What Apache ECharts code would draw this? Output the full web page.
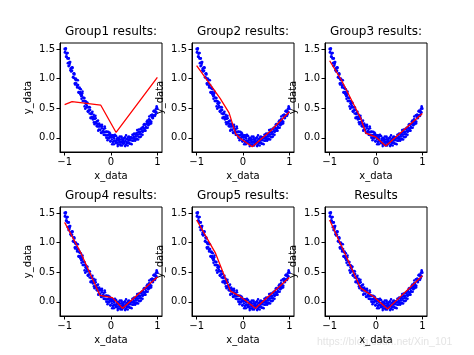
<!DOCTYPE html>
<html>
<head>
<meta charset="utf-8">
<script src="https://cdn.jsdelivr.net/npm/echarts@6/dist/echarts.min.js"></script>
<style>
html,body{margin:0;padding:0;background:#fff;}
#c{width:474px;height:355px;}
</style>
</head>
<body>
<div id="c"></div>
<script>
// ---- data ----
const xData = [
-1.00,-0.99,-0.98,-0.97,-0.96,-0.95,-0.94,-0.93,-0.92,-0.91,
-0.90,-0.89,-0.88,-0.87,-0.86,-0.85,-0.84,-0.83,-0.82,-0.81,
-0.80,-0.79,-0.78,-0.77,-0.76,-0.75,-0.74,-0.73,-0.72,-0.71,
-0.70,-0.69,-0.68,-0.67,-0.66,-0.65,-0.64,-0.63,-0.62,-0.61,
-0.60,-0.59,-0.58,-0.57,-0.56,-0.55,-0.54,-0.53,-0.52,-0.51,
-0.50,-0.49,-0.48,-0.47,-0.46,-0.45,-0.44,-0.43,-0.42,-0.41,
-0.40,-0.39,-0.38,-0.37,-0.36,-0.35,-0.34,-0.33,-0.32,-0.31,
-0.30,-0.29,-0.28,-0.27,-0.26,-0.25,-0.24,-0.23,-0.22,-0.21,
-0.20,-0.19,-0.18,-0.17,-0.16,-0.15,-0.14,-0.13,-0.12,-0.11,
-0.10,-0.09,-0.08,-0.07,-0.06,-0.05,-0.04,-0.03,-0.02,-0.01,
0.00,0.01,0.02,0.03,0.04,0.05,0.06,0.07,0.08,0.09,
0.10,0.11,0.12,0.13,0.14,0.15,0.16,0.17,0.18,0.19,
0.20,0.21,0.22,0.23,0.24,0.25,0.26,0.27,0.28,0.29,
0.30,0.31,0.32,0.33,0.34,0.35,0.36,0.37,0.38,0.39,
0.40,0.41,0.42,0.43,0.44,0.45,0.46,0.47,0.48,0.49,
0.50,0.51,0.52,0.53,0.54,0.55,0.56,0.57,0.58,0.59,
0.60,0.61,0.62,0.63,0.64,0.65,0.66,0.67,0.68,0.69,
0.70,0.71,0.72,0.73,0.74,0.75,0.76,0.77,0.78,0.79,
0.80,0.81,0.82,0.83,0.84,0.85,0.86,0.87,0.88,0.89,
0.90,0.91,0.92,0.93,0.94,0.95,0.96,0.97,0.98,0.99,1.00
];
const yData = [
1.50,1.45,1.49,1.37,1.42,1.43,1.34,1.26,1.34,1.34,
1.22,1.25,1.28,1.17,1.12,1.18,1.13,1.18,1.02,1.08,
1.01,1.07,0.92,0.99,1.00,0.92,0.98,0.85,0.88,0.89,
0.77,0.84,0.85,0.77,0.73,0.82,0.70,0.72,0.75,0.62,
0.68,0.62,0.67,0.53,0.62,0.58,0.61,0.51,0.54,0.59,
0.45,0.51,0.46,0.52,0.41,0.47,0.34,0.40,0.42,0.35,
0.44,0.31,0.34,0.26,0.36,0.32,0.26,0.33,0.25,0.20,
0.28,0.23,0.29,0.19,0.14,0.22,0.19,0.13,0.21,0.08,
0.16,0.19,0.09,0.11,0.15,0.05,0.10,0.16,0.05,0.10,
0.00,0.10,0.04,0.00,0.10,0.05,-0.01,0.02,0.07,-0.06,
0.04,0.01,-0.03,0.04,-0.07,0.01,-0.11,-0.01,0.03,-0.05,
-0.08,0.03,-0.05,-0.08,0.00,-0.11,-0.04,-0.02,-0.08,0.02,
-0.11,-0.03,-0.07,0.00,-0.13,-0.04,-0.06,-0.10,-0.01,-0.09,
0.01,-0.05,-0.12,-0.02,-0.07,-0.02,-0.13,0.01,-0.05,-0.09,
-0.02,0.01,-0.04,-0.10,0.01,-0.01,-0.05,0.05,-0.05,0.02,
0.07,-0.01,-0.05,0.05,0.02,0.08,-0.02,0.05,0.09,0.02,
0.14,0.06,0.01,0.10,0.15,0.06,0.14,0.11,0.05,0.18,
0.12,0.16,0.23,0.12,0.22,0.18,0.17,0.27,0.24,0.17,
0.27,0.25,0.31,0.23,0.30,0.28,0.38,0.27,0.35,0.39,
0.33,0.37,0.45,0.38,0.46,0.37,0.45,0.49,0.43,0.51,0.49
];
// more points of the same cloud (between the ones above)
const xData2 = [
-0.995,-0.975,-0.955,-0.935,-0.915,-0.895,-0.875,-0.855,-0.835,-0.815,
-0.795,-0.775,-0.755,-0.735,-0.715,-0.695,-0.675,-0.655,-0.635,-0.615,
-0.595,-0.575,-0.555,-0.535,-0.515,-0.495,-0.475,-0.455,-0.435,-0.415,
-0.395,-0.375,-0.355,-0.335,-0.315,-0.295,-0.275,-0.255,-0.235,-0.215,
-0.195,-0.175,-0.155,-0.135,-0.115,-0.095,-0.075,-0.055,-0.035,-0.015,
0.005,0.025,0.045,0.065,0.085,0.105,0.125,0.145,0.165,0.185,
0.205,0.225,0.245,0.265,0.285,0.305,0.325,0.345,0.365,0.385,
0.405,0.425,0.445,0.465,0.485,0.505,0.525,0.545,0.565,0.585,
0.605,0.625,0.645,0.665,0.685,0.705,0.725,0.745,0.765,0.785,
0.805,0.825,0.845,0.865,0.885,0.905,0.925,0.945,0.965,0.985
];
const yData2 = [
1.44,1.51,1.37,1.43,1.21,1.28,1.14,1.17,1.19,1.03,
1.09,0.90,0.97,0.88,0.97,0.76,0.83,0.75,0.66,0.78,
0.62,0.67,0.49,0.57,0.59,0.44,0.46,0.51,0.33,0.41,
0.33,0.39,0.23,0.37,0.27,0.19,0.12,0.24,0.20,0.09,
0.22,0.11,0.05,0.19,0.04,0.10,-0.04,0.05,0.09,-0.06,
0.01,-0.11,0.04,-0.05,0.05,-0.09,-0.02,-0.14,-0.01,-0.06,
-0.13,0.02,-0.09,-0.02,-0.07,-0.14,0.04,-0.09,-0.03,0.02,
-0.10,0.00,-0.11,0.05,-0.01,-0.02,0.06,-0.03,0.13,-0.03,
0.10,0.09,0.02,0.17,0.10,0.22,0.15,0.12,0.23,0.29,
0.21,0.36,0.27,0.24,0.39,0.34,0.45,0.44,0.40,0.53
];

const titles = ["Group1 results:", "Group2 results:", "Group3 results:", "Group4 results:", "Group5 results:", "Results"];

const g1X = [-1, -0.84, -0.22, 0.11, 1];
const g1Y = [0.56, 0.61, 0.55, 0.09, 1.02];
const g2X = [-1, -0.67, -0.49, -0.30, -0.16, -0.08, 0.20, 0.60, 1];
const g2Y = [1.22, 0.86, 0.66, 0.42, 0.07, 0.00, -0.15, 0.12, 0.44];
const g3X = [-1, -0.75, -0.33, -0.22, 0.00, 0.21, 1];
const g3Y = [1.30, 0.98, 0.33, 0.08, 0.01, -0.14, 0.41];
const g4X = [-1, -0.66, -0.24, 0.03, 0.25, 1];
const g4Y = [1.34, 0.84, 0.11, 0.07, -0.11, 0.42];
const g5X = [-1, -0.60, -0.27, -0.08, 0.27, 1];
const g5Y = [1.38, 0.83, 0.18, 0.10, -0.11, 0.41];
const g6X = [-1, -0.33, -0.04, 0.25, 1];
const g6Y = [1.38, 0.23, 0.08, -0.12, 0.44];

const xTicks = [-1, 0, 1];
const yTicks = [0, 0.5, 1.0, 1.5];
const xLabel = "x_data";
const yLabel = "y_data";
const watermark = "https://blog.csdn.net/Xin_101";

// ---- layout ----
const lineXs = [g1X, g2X, g3X, g4X, g5X, g6X];
const lineYs = [g1Y, g2Y, g3Y, g4Y, g5Y, g6Y];
const colLeft = [60, 192, 325];
const rowTop = [43, 207];
const W = 102, H = 109;
const FONT = "DejaVu Sans";

const scatterPts = xData.map((x, i) => [x, yData[i]])
  .concat(xData2.map((x, i) => [x, yData2[i]]));

const grid = [], xAxis = [], yAxis = [], series = [], graphic = [];
for (let k = 0; k < 6; k++) {
  const r = Math.floor(k / 3), c = k % 3;
  grid.push({
    left: colLeft[c], top: rowTop[r], width: W, height: H,
    show: true, borderColor: '#000', borderWidth: 1, backgroundColor: 'transparent',
    containLabel: false
  });
  xAxis.push({
    type: 'value', gridIndex: k, min: -1.1, max: 1.1,
    name: xLabel, nameLocation: 'middle', nameGap: 19,
    nameTextStyle: { color: '#000', fontSize: 10, fontFamily: FONT },
    axisLine: { show: true, onZero: false, lineStyle: { color: '#000', width: 1 } },
    axisTick: { show: true, length: 3.5, customValues: xTicks, lineStyle: { color: '#000', width: 1 } },
    axisLabel: {
      show: true, margin: 5, customValues: xTicks, color: '#000', fontSize: 10, fontFamily: FONT,
      formatter: v => (v < 0 ? '\u2212' + Math.abs(v) : String(v))
    },
    splitLine: { show: false }
  });
  yAxis.push({
    type: 'value', gridIndex: k, min: -0.24, max: 1.6,
    name: yLabel, nameLocation: 'middle', nameGap: 27, nameRotate: 90,
    nameTextStyle: { color: '#000', fontSize: 10, fontFamily: FONT },
    axisLine: { show: true, onZero: false, lineStyle: { color: '#000', width: 1 } },
    axisTick: { show: true, length: 3.5, customValues: yTicks, lineStyle: { color: '#000', width: 1 } },
    axisLabel: {
      show: true, margin: 5, customValues: yTicks, color: '#000', fontSize: 10, fontFamily: FONT,
      formatter: v => v.toFixed(1)
    },
    splitLine: { show: false }
  });
  series.push({
    type: 'scatter', xAxisIndex: k, yAxisIndex: k, data: scatterPts,
    symbol: 'circle', symbolSize: 2.6, itemStyle: { color: '#0000ff', opacity: 1 },
    z: 2, silent: true
  });
  series.push({
    type: 'line', xAxisIndex: k, yAxisIndex: k,
    data: lineXs[k].map((x, i) => [x, lineYs[k][i]]),
    showSymbol: false, symbol: 'none',
    lineStyle: { color: '#ff0000', width: 1.3 }, z: 3, silent: true
  });
  graphic.push({
    type: 'text', x: colLeft[c] + W / 2, y: rowTop[r] - 11, silent: true,
    style: { text: titles[k], fill: '#000', font: '12px "DejaVu Sans"', align: 'center', verticalAlign: 'middle' }
  });
}
graphic.push({
  type: 'text', x: 317, y: 342, z: -10, silent: true,
  style: { text: watermark, fill: '#e4e4e4', font: '10.5px "Liberation Sans"', align: 'left', verticalAlign: 'middle' }
});

const chart = echarts.init(document.getElementById('c'), null, { renderer: 'canvas' });
chart.setOption({
  animation: false,
  backgroundColor: '#fff',
  grid: grid,
  xAxis: xAxis,
  yAxis: yAxis,
  series: series,
  graphic: graphic
});
</script>
</body>
</html>
